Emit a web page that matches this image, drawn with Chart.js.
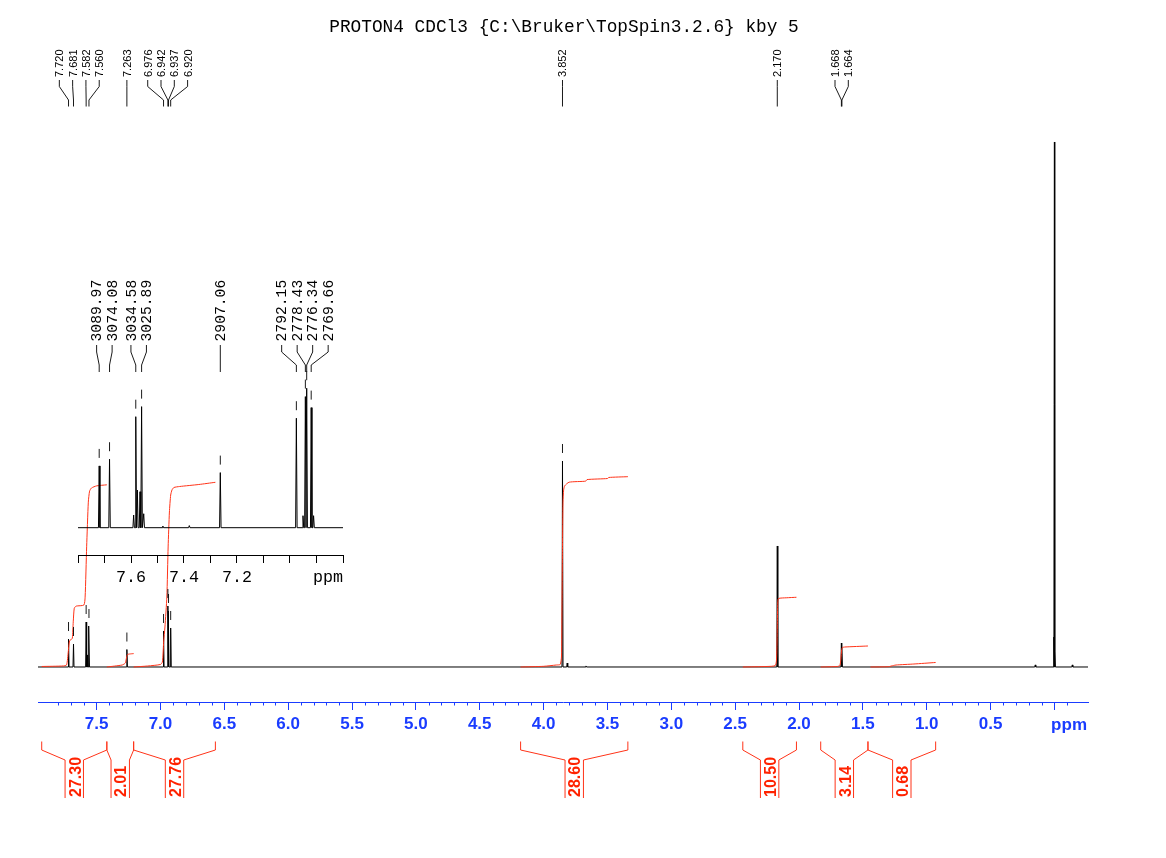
<!DOCTYPE html>
<html><head><meta charset="utf-8">
<script src="https://cdn.jsdelivr.net/npm/chart.js@4/dist/chart.umd.min.js"></script>
<style>
html,body{margin:0;padding:0;background:#fff;}
#wrap{position:relative;width:1166px;height:858px;overflow:hidden;}
canvas{position:absolute;left:0;top:0;}
</style></head><body>
<div id="wrap"><canvas id="main" width="1166" height="858"></canvas><canvas id="inset" width="1166" height="858"></canvas></div>
<script>
// ---------------- data ----------------
const titleText = 'PROTON4 CDCl3 {C:\\Bruker\\TopSpin3.2.6} kby 5';

// main spectrum peaks (ppm, relative intensity, TMS = 100)
const mainPpm    = [7.720, 7.681, 7.582, 7.571, 7.560, 7.263, 6.976, 6.942, 6.937, 6.920, 3.852, 3.815, 3.668, 2.170, 1.668, 1.664, 0.150, 0.004, 0.000, -0.004, -0.140];
const mainHeight = [5.33, 4.38, 8.57, 2.3, 7.81, 3.33, 6.86, 11.62, 10.67, 7.43, 39.24, 0.76, 0.2, 23.05, 4.57, 4.19, 0.4, 5.7, 100, 3.0, 0.4];

// expanded inset (aromatic region) peaks, relative intensity (tallest = 100)
const insetPpm    = [7.720, 7.681, 7.590, 7.582, 7.576, 7.566, 7.560, 7.552, 7.48, 7.38, 7.263, 6.976, 6.951, 6.942, 6.937, 6.920, 6.911];
const insetHeight = [44.3, 49.1, 9.1, 79.6, 27.0, 25.8, 86.8, 10.0, 1.2, 1.5, 39.5, 78.5, 8.6, 94.0, 100, 86.1, 8.6];

// peak-pick labels
const labelPpm = [7.720, 7.681, 7.582, 7.560, 7.263, 6.976, 6.942, 6.937, 6.920, 3.852, 2.170, 1.668, 1.664];
const markerPpm = [7.720, 7.681, 7.582, 7.560, 7.263, 6.976, 6.942, 6.937, 6.920, 3.852];
const insetHz = [3089.97, 3074.08, 3034.58, 3025.89, 2907.06, 2792.15, 2778.43, 2776.34, 2769.66];

// integrals
const intFrom   = [7.93, 7.42, 7.21, 4.18, 2.44, 1.83, 1.46];
const intTo     = [7.42, 7.21, 6.57, 3.34, 2.02, 1.46, 0.93];
const intLabels = ['27.30', '2.01', '27.76', '28.60', '10.50', '3.14', '0.68'];
const int1 = [[7.93,0.1],[7.76,0.2],[7.735,0.4],[7.722,2.9],[7.712,5.0],[7.700,5.2],[7.690,5.5],[7.683,8.6],[7.675,11.2],[7.660,11.6],[7.600,11.8],[7.590,13.3],[7.578,22.9],[7.565,31.4],[7.555,33.5],[7.540,34.1],[7.500,34.5],[7.42,34.7]];
const int2 = [[7.42,0],[7.30,0.38],[7.275,0.76],[7.268,1.52],[7.258,2.38],[7.24,2.48],[7.21,2.55]];
const int3 = [[7.21,0],[7.10,0.19],[7.00,0.48],[6.985,0.95],[6.975,4.76],[6.965,7.62],[6.950,13.33],[6.940,22.86],[6.930,29.52],[6.920,32.76],[6.910,33.71],[6.895,34.19],[6.85,34.38],[6.70,34.76],[6.57,35.18]];
const int4 = [[4.18,0],[4.00,0.13],[3.90,0.38],[3.870,0.48],[3.860,1.9],[3.856,11.4],[3.852,22.9],[3.848,31.4],[3.843,33.7],[3.835,34.5],[3.80,35.2],[3.67,35.4],[3.66,35.7],[3.50,35.9],[3.49,36.1],[3.34,36.25]];
const int5 = [[2.44,0],[2.25,0.1],[2.185,0.29],[2.175,1.9],[2.170,7.62],[2.166,12.38],[2.160,13.05],[2.10,13.18],[2.02,13.28]];
const int6 = [[1.83,0],[1.70,0.1],[1.68,0.29],[1.672,1.52],[1.666,3.24],[1.660,3.71],[1.64,3.81],[1.46,4.0]];
const int7 = [[1.44,0],[1.30,0.06],[1.26,0.29],[1.24,0.38],[1.10,0.57],[0.93,0.86]];
const integralCurves = [int1, int2, int3, int4, int5, int6, int7];

// axis ranges
const mainRange  = [-0.263, 7.959];
const insetRange = [6.80, 7.80];

// ---------------- style ----------------
const BLUE = '#1a3cff';
const RED = '#ff3318';
const RED_TXT = '#ff2200';
const SANS = "'Liberation Sans', Arial, sans-serif";
const MONO = "'Liberation Mono', 'Courier New', monospace";

function stickPoints(ppms, heights, hw, lo, hi) {
  const idx = ppms.map((p, i) => i).filter(i => ppms[i] <= hi && ppms[i] >= lo).sort((a, b) => ppms[b] - ppms[a]);
  const pts = [{x: hi, y: 0}];
  idx.forEach(i => {
    pts.push({x: ppms[i] + hw, y: 0}, {x: ppms[i], y: heights[i]}, {x: ppms[i] - hw, y: 0});
  });
  pts.push({x: lo, y: 0});
  return pts;
}
function heightAt(ppms, heights, p) {
  const i = ppms.findIndex(v => Math.abs(v - p) < 1e-9);
  return i >= 0 ? heights[i] : 0;
}
function spread(xs, S) {
  let groups = xs.map(x => ({xs: [x]}));
  const pos = g => { const n = g.xs.length; const m = g.xs.reduce((a, b) => a + b, 0) / n; return g.xs.map((_, k) => m + (k - (n - 1) / 2) * S); };
  let changed = true;
  while (changed) {
    changed = false;
    for (let i = 0; i < groups.length - 1; i++) {
      const a = pos(groups[i]), b = pos(groups[i + 1]);
      if (b[0] - a[a.length - 1] < S - 0.01) {
        groups[i].xs = groups[i].xs.concat(groups[i + 1].xs);
        groups.splice(i + 1, 1);
        changed = true; break;
      }
    }
  }
  return groups.flatMap(pos);
}
function drawRotated(ctx, text, x, yStart, capH) {
  ctx.save();
  ctx.translate(x, yStart);
  ctx.rotate(-Math.PI / 2);
  ctx.textAlign = 'left';
  ctx.textBaseline = 'alphabetic';
  ctx.fillText(text, 0, capH / 2);
  ctx.restore();
}
function drawLabels(ctx, xs, peakXs, texts, S, font, capH, yText, y0, y1, y2, y3) {
  const lx = spread(xs, S);
  ctx.save();
  ctx.fillStyle = '#000';
  ctx.font = font;
  ctx.strokeStyle = '#000';
  ctx.lineWidth = 0.9;
  for (let i = 0; i < lx.length; i++) {
    drawRotated(ctx, texts[i], lx[i], yText, capH);
    ctx.beginPath();
    ctx.moveTo(lx[i], y0); ctx.lineTo(lx[i], y1); ctx.lineTo(peakXs[i], y2); ctx.lineTo(peakXs[i], y3);
    ctx.stroke();
  }
  ctx.restore();
}

const mainPlugin = {
  id: 'mainDecor',
  afterDraw(chart) {
    const ctx = chart.ctx;
    const xs = chart.scales.x, ys = chart.scales.y;
    const bottom = chart.chartArea.bottom;
    // title
    ctx.save();
    ctx.fillStyle = '#000';
    ctx.font = '17.8px ' + MONO;
    ctx.textAlign = 'center';
    ctx.textBaseline = 'alphabetic';
    ctx.fillText(titleText, 564, 31.5);
    ctx.restore();
    // minor ticks
    ctx.save();
    ctx.strokeStyle = BLUE; ctx.lineWidth = 1;
    xs.ticks.forEach(t => {
      const r = Math.round(t.value * 10);
      if (r % 5 !== 0) {
        const px = Math.round(xs.getPixelForValue(t.value)) + 0.5;
        ctx.beginPath(); ctx.moveTo(px, bottom); ctx.lineTo(px, bottom + 3.5); ctx.stroke();
      }
    });
    // ppm unit
    ctx.fillStyle = BLUE;
    ctx.font = 'bold 17px ' + SANS;
    ctx.textAlign = 'right'; ctx.textBaseline = 'middle';
    ctx.fillText('ppm', chart.chartArea.right - 1, 725);
    ctx.restore();
    // peak markers
    ctx.save();
    ctx.strokeStyle = '#000'; ctx.lineWidth = 0.9;
    markerPpm.forEach(p => {
      const px = xs.getPixelForValue(p);
      const py = ys.getPixelForValue(heightAt(mainPpm, mainHeight, p));
      ctx.beginPath(); ctx.moveTo(px, py - 8); ctx.lineTo(px, py - 17); ctx.stroke();
    });
    ctx.restore();
    // peak labels
    const peakXs = labelPpm.map(p => xs.getPixelForValue(p));
    drawLabels(ctx, peakXs, peakXs, labelPpm.map(p => p.toFixed(3)), 13.3, '11px ' + SANS, 7.9, 77, 80, 86.5, 100, 106.5);
    // integral brackets
    ctx.save();
    ctx.strokeStyle = RED; ctx.lineWidth = 1;
    ctx.fillStyle = RED_TXT;
    ctx.font = 'bold 16px ' + SANS;
    const half = 9.2;
    for (let i = 0; i < intFrom.length; i++) {
      const xa = xs.getPixelForValue(intFrom[i]), xb = xs.getPixelForValue(intTo[i]);
      const cx = (xa + xb) / 2;
      ctx.beginPath();
      ctx.moveTo(xa, 741.5); ctx.lineTo(xa, 750); ctx.lineTo(cx - half, 760); ctx.lineTo(cx - half, 798);
      ctx.moveTo(xb, 741.5); ctx.lineTo(xb, 750); ctx.lineTo(cx + half, 760); ctx.lineTo(cx + half, 798);
      ctx.stroke();
      drawRotated(ctx, intLabels[i], cx + 0.5, 797, 11.5);
    }
    ctx.restore();
  }
};

const insetPlugin = {
  id: 'insetDecor',
  afterDraw(chart) {
    const ctx = chart.ctx;
    const xs = chart.scales.x, ys = chart.scales.y;
    ctx.save();
    ctx.fillStyle = '#000';
    ctx.font = '16.7px ' + MONO;
    ctx.textAlign = 'right'; ctx.textBaseline = 'middle';
    ctx.fillText('ppm', chart.chartArea.right, 578);
    ctx.strokeStyle = '#000'; ctx.lineWidth = 0.9;
    labelPpm.slice(0, insetHz.length).forEach(p => {
      const px = xs.getPixelForValue(p);
      const py = ys.getPixelForValue(heightAt(insetPpm, insetHeight, p));
      ctx.beginPath(); ctx.moveTo(px, py - 8); ctx.lineTo(px, py - 17); ctx.stroke();
    });
    ctx.restore();
    const ip = labelPpm.slice(0, insetHz.length);
    const peakXs = ip.map(p => xs.getPixelForValue(p));
    drawLabels(ctx, peakXs, peakXs, insetHz.map(v => v.toFixed(2)), 15.5, '14.7px ' + MONO, 9.4, 341.5, 345, 352, 365, 372);
  }
};

Chart.defaults.font.family = SANS;
Chart.defaults.animation = false;

const mainDatasets = [{
  data: stickPoints(mainPpm, mainHeight, 0.004, mainRange[0], mainRange[1]),
  borderColor: '#000', borderWidth: 1, pointRadius: 0, tension: 0, order: 1
}].concat(integralCurves.map(c => ({
  data: c.map(([x, y]) => ({x, y})),
  borderColor: RED, borderWidth: 1, pointRadius: 0, tension: 0.2, order: 0
})));

new Chart(document.getElementById('main'), {
  type: 'line',
  data: {datasets: mainDatasets},
  options: {
    responsive: false, devicePixelRatio: 1, animation: false,
    layout: {padding: {left: 38, right: 78, top: 100, bottom: 0}},
    plugins: {legend: {display: false}, tooltip: {enabled: false}, title: {display: false}},
    scales: {
      x: {
        type: 'linear', reverse: true, min: mainRange[0], max: mainRange[1],
        afterBuildTicks: s => { s.ticks = s.ticks.filter(t => Math.abs(t.value * 10 - Math.round(t.value * 10)) < 1e-6); },
        afterFit: s => { s.height = 156; },
        ticks: {
          stepSize: 0.1, autoSkip: false, maxRotation: 0, minRotation: 0, padding: 4,
          color: BLUE, font: {family: SANS, size: 17, weight: 'bold'},
          callback: v => { const r = Math.round(v * 10); return (r % 5 === 0 && r >= 5 && r <= 75) ? (r / 10).toFixed(1) : ''; }
        },
        grid: {drawOnChartArea: false, drawTicks: true, tickLength: 8, color: 'rgba(0,0,0,0)',
               tickColor: c => (c.tick && Math.round(c.tick.value * 10) % 5 === 0) ? BLUE : 'rgba(0,0,0,0)', tickWidth: 1},
        border: {display: true, color: BLUE, width: 1}
      },
      y: {type: 'linear', display: false, min: -6.667, max: 108}
    }
  },
  plugins: [mainPlugin]
});

new Chart(document.getElementById('inset'), {
  type: 'line',
  data: {datasets: [{
    data: stickPoints(insetPpm, insetHeight, 0.0028, insetRange[0], insetRange[1]),
    borderColor: '#000', borderWidth: 1, pointRadius: 0, tension: 0
  }]},
  options: {
    responsive: false, devicePixelRatio: 1, animation: false,
    layout: {padding: {left: 78, right: 823, top: 380, bottom: 0}},
    plugins: {legend: {display: false}, tooltip: {enabled: false}},
    scales: {
      x: {
        type: 'linear', reverse: true, min: insetRange[0], max: insetRange[1],
        afterFit: s => { s.height = 303; },
        ticks: {
          stepSize: 0.1, autoSkip: false, maxRotation: 0, minRotation: 0, padding: 5,
          color: '#000', font: {family: MONO, size: 16.7},
          callback: v => { const r = Math.round(v * 10); return (r === 76 || r === 74 || r === 72) ? (r / 10).toFixed(1) : ''; }
        },
        grid: {drawOnChartArea: false, drawTicks: true, tickLength: 8, color: 'rgba(0,0,0,0)', tickColor: '#000', tickWidth: 1},
        border: {display: true, color: '#000', width: 1}
      },
      y: {type: 'linear', display: false, min: -19.58, max: 105.9}
    }
  },
  plugins: [insetPlugin]
});
</script>
</body></html>
